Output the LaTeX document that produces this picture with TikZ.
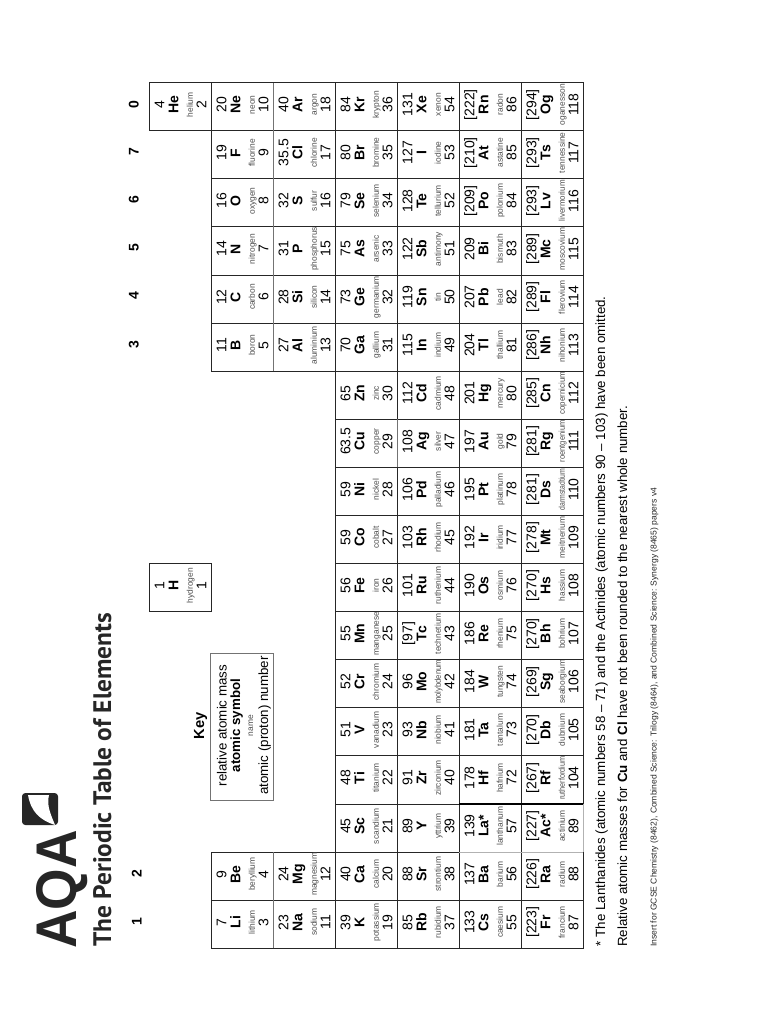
\documentclass[tikz,border=0pt]{standalone}
\usepackage{fontspec}
\setmainfont{Liberation Sans}
\newfontfamily\titlefont{PT Sans}

\definecolor{gridgrey}{gray}{0.45}
\definecolor{lightgrid}{gray}{0.7}
\definecolor{namegrey}{gray}{0.3}

\tikzset{
  cellbox/.style={draw=black!85,line width=0.7pt,minimum width=46.5pt,minimum height=36.07pt,inner sep=0pt,outer sep=0pt},
  uptext/.style={rotate=90,anchor=base,inner sep=0pt},
  masstext/.style={uptext,font=\fontsize{10.5}{12}\selectfont},
  symtext/.style={uptext,font=\fontsize{10.5}{12}\selectfont\bfseries},
  nametext/.style={uptext,text=namegrey,font=\fontsize{6.3}{7}\selectfont},
  keytext/.style={uptext,font=\fontsize{10}{12}\selectfont},
  grouptext/.style={uptext,font=\fontsize{10.5}{12}\selectfont\bfseries},
  foottext/.style={rotate=90,anchor=base west,inner sep=0pt,font=\fontsize{10}{12}\selectfont},
}

\newcommand{\elem}[6]{%
  \pgfmathsetmacro{\cellx}{180.3+62*#3}%
  \pgfmathsetmacro{\celly}{948.3-48.09*(#2+0.5)}%
  \node[cellbox] (#1) at (\cellx,\celly) {};
  \node[masstext] (#1m) at (\cellx-16,\celly-2) {#4};
  \node[symtext] (#1s) at (\cellx-2,\celly-2) {#5};
  \node[nametext] (#1n) at (\cellx+12.5,\celly-2) {#6};
  \node[masstext] (#1z) at (\cellx+26,\celly-2) {#1};
}

\begin{document}
\begin{tikzpicture}[x=0.75pt,y=-0.75pt]

  \useasboundingbox (0,0) rectangle (768,1024);

  % logo
  \fill[black!85,rounded corners=2.5pt] (22,793) rectangle (58,825);
  \fill[white] (28,795) .. controls (31,812) and (40,820) .. (55,825)
               .. controls (52,817) and (46,806) .. (49,795) -- cycle;
  \node[uptext,text=black!85,font=\fontsize{43}{45}\selectfont\bfseries] (aqa) at (76,889.5) {\scalebox{0.93}[1]{AQA}};

  \node[rotate=90,anchor=base west,inner sep=0pt,text=black!85,font=\titlefont\fontsize{19}{22}\selectfont\bfseries] (title) at (111,947) {The Periodic Table of Elements};

  % group numbers
  \node[grouptext] (g1) at (141.7,922) {1};
  \node[grouptext] (g2) at (141.7,873.5) {2};
  \node[grouptext] (g3) at (138.7,345) {3};
  \node[grouptext] (g4) at (138.7,296) {4};
  \node[grouptext] (g5) at (138.7,248) {5};
  \node[grouptext] (g6) at (138.7,200) {6};
  \node[grouptext] (g7) at (138.7,152) {7};
  \node[grouptext] (g0) at (138.7,105) {0};

  % key
  \node[draw=gridgrey,line width=0.8pt,minimum width=46.8pt,minimum height=110.5pt,inner sep=0pt] (key) at (242,727) {};
  \node[uptext,font=\fontsize{11}{13}\selectfont\bfseries] (keyhead) at (204,726) {Key};
  \node[keytext] (keymass) at (226.5,725.5) {relative atomic mass};
  \node[keytext,font=\fontsize{10}{12}\selectfont\bfseries] (keysym) at (240,725.5) {atomic symbol};
  \node[nametext] (keyname) at (253,725.5) {name};
  \node[keytext] (keynum) at (268,725.5) {atomic (proton) number};

  % period 1
  \elem{1}{7}{0}{1}{H}{hydrogen}
  \elem{2}{17}{0}{4}{He}{helium}

  % period 2
  \elem{3}{0}{1}{7}{Li}{lithium}
  \elem{4}{1}{1}{9}{Be}{beryllium}
  \elem{5}{12}{1}{11}{B}{boron}
  \elem{6}{13}{1}{12}{C}{carbon}
  \elem{7}{14}{1}{14}{N}{nitrogen}
  \elem{8}{15}{1}{16}{O}{oxygen}
  \elem{9}{16}{1}{19}{F}{fluorine}
  \elem{10}{17}{1}{20}{Ne}{neon}

  % period 3
  \elem{11}{0}{2}{23}{Na}{sodium}
  \elem{12}{1}{2}{24}{Mg}{magnesium}
  \elem{13}{12}{2}{27}{Al}{aluminium}
  \elem{14}{13}{2}{28}{Si}{silicon}
  \elem{15}{14}{2}{31}{P}{phosphorus}
  \elem{16}{15}{2}{32}{S}{sulfur}
  \elem{17}{16}{2}{35.5}{Cl}{chlorine}
  \elem{18}{17}{2}{40}{Ar}{argon}

  % period 4
  \elem{19}{0}{3}{39}{K}{potassium}
  \elem{20}{1}{3}{40}{Ca}{calcium}
  \elem{21}{2}{3}{45}{Sc}{scandium}
  \elem{22}{3}{3}{48}{Ti}{titanium}
  \elem{23}{4}{3}{51}{V}{vanadium}
  \elem{24}{5}{3}{52}{Cr}{chromium}
  \elem{25}{6}{3}{55}{Mn}{manganese}
  \elem{26}{7}{3}{56}{Fe}{iron}
  \elem{27}{8}{3}{59}{Co}{cobalt}
  \elem{28}{9}{3}{59}{Ni}{nickel}
  \elem{29}{10}{3}{63.5}{Cu}{copper}
  \elem{30}{11}{3}{65}{Zn}{zinc}
  \elem{31}{12}{3}{70}{Ga}{gallium}
  \elem{32}{13}{3}{73}{Ge}{germanium}
  \elem{33}{14}{3}{75}{As}{arsenic}
  \elem{34}{15}{3}{79}{Se}{selenium}
  \elem{35}{16}{3}{80}{Br}{bromine}
  \elem{36}{17}{3}{84}{Kr}{krypton}

  % period 5
  \elem{37}{0}{4}{85}{Rb}{rubidium}
  \elem{38}{1}{4}{88}{Sr}{strontium}
  \elem{39}{2}{4}{89}{Y}{yttrium}
  \elem{40}{3}{4}{91}{Zr}{zirconium}
  \elem{41}{4}{4}{93}{Nb}{niobium}
  \elem{42}{5}{4}{96}{Mo}{\scalebox{0.92}[1]{molybdenum}}
  \elem{43}{6}{4}{[97]}{Tc}{technetium}
  \elem{44}{7}{4}{101}{Ru}{ruthenium}
  \elem{45}{8}{4}{103}{Rh}{rhodium}
  \elem{46}{9}{4}{106}{Pd}{palladium}
  \elem{47}{10}{4}{108}{Ag}{silver}
  \elem{48}{11}{4}{112}{Cd}{cadmium}
  \elem{49}{12}{4}{115}{In}{indium}
  \elem{50}{13}{4}{119}{Sn}{tin}
  \elem{51}{14}{4}{122}{Sb}{antimony}
  \elem{52}{15}{4}{128}{Te}{tellurium}
  \elem{53}{16}{4}{127}{I}{iodine}
  \elem{54}{17}{4}{131}{Xe}{xenon}

  % period 6
  \elem{55}{0}{5}{133}{Cs}{caesium}
  \elem{56}{1}{5}{137}{Ba}{barium}
  \elem{57}{2}{5}{139}{La*}{lanthanum}
  \elem{72}{3}{5}{178}{Hf}{hafnium}
  \elem{73}{4}{5}{181}{Ta}{tantalum}
  \elem{74}{5}{5}{184}{W}{tungsten}
  \elem{75}{6}{5}{186}{Re}{rhenium}
  \elem{76}{7}{5}{190}{Os}{osmium}
  \elem{77}{8}{5}{192}{Ir}{iridium}
  \elem{78}{9}{5}{195}{Pt}{platinum}
  \elem{79}{10}{5}{197}{Au}{gold}
  \elem{80}{11}{5}{201}{Hg}{mercury}
  \elem{81}{12}{5}{204}{Tl}{thallium}
  \elem{82}{13}{5}{207}{Pb}{lead}
  \elem{83}{14}{5}{209}{Bi}{bismuth}
  \elem{84}{15}{5}{[209]}{Po}{polonium}
  \elem{85}{16}{5}{[210]}{At}{astatine}
  \elem{86}{17}{5}{[222]}{Rn}{radon}

  % period 7
  \elem{87}{0}{6}{[223]}{Fr}{francium}
  \elem{88}{1}{6}{[226]}{Ra}{radium}
  \elem{89}{2}{6}{[227]}{Ac*}{actinium}
  \elem{104}{3}{6}{[267]}{Rf}{\scalebox{0.87}[1]{rutherfordium}}
  \elem{105}{4}{6}{[270]}{Db}{dubnium}
  \elem{106}{5}{6}{[269]}{Sg}{seaborgium}
  \elem{107}{6}{6}{[270]}{Bh}{bohrium}
  \elem{108}{7}{6}{[270]}{Hs}{hassium}
  \elem{109}{8}{6}{[278]}{Mt}{meitnerium}
  \elem{110}{9}{6}{[281]}{Ds}{\scalebox{0.82}[1]{darmstadtium}}
  \elem{111}{10}{6}{[281]}{Rg}{\scalebox{0.9}[1]{roentgenium}}
  \elem{112}{11}{6}{[285]}{Cn}{\scalebox{0.95}[1]{copernicium}}
  \elem{113}{12}{6}{[286]}{Nh}{nihonium}
  \elem{114}{13}{6}{[289]}{Fl}{flerovium}
  \elem{115}{14}{6}{[289]}{Mc}{moscovium}
  \elem{116}{15}{6}{[293]}{Lv}{\scalebox{0.95}[1]{livermorium}}
  \elem{117}{16}{6}{[293]}{Ts}{tennessine}
  \elem{118}{17}{6}{[294]}{Og}{oganesson}

  % lines that are not like the rest
  \draw[gridgrey,line width=0.9pt] (3.south east) -- (4.north east);
  \draw[gridgrey,line width=0.9pt] (5.south east) -- (10.north east);
  \draw[gridgrey,line width=0.9pt] (29.south east) -- (29.north east);
  \draw[lightgrid,line width=0.8pt] (57.south west) -- (89.south east);
  \draw[lightgrid,line width=0.8pt] (89.south east) -- (89.north east);
  \draw[black,line width=2pt] (72.south west) -- (104.south east);

  % notes
  \node[foottext] (note1) at (605,946.5) {* The Lanthanides (atomic numbers 58 -- 71) and the Actinides (atomic numbers 90 -- 103) have been omitted.};
  \node[foottext] (note2) at (627,947) {Relative atomic masses for \textbf{Cu} and \textbf{Cl} have not been rounded to the nearest whole number.};
  \node[foottext,text=black!85,font=\fontsize{6.4}{8}\selectfont] (note3) at (656.5,947) {Insert for GCSE Chemistry (8462), Combined Science: Trilogy (8464), and Combined Science: Synergy (8465) papers v4};

\end{tikzpicture}
\end{document}
